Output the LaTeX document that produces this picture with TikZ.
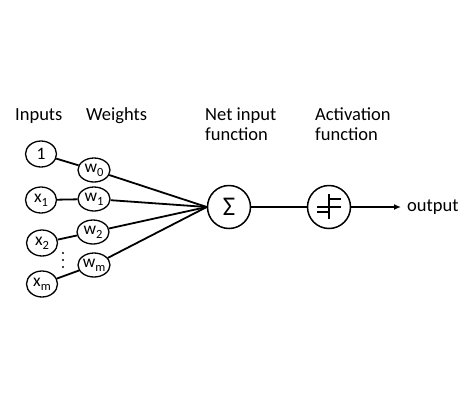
\documentclass[tikz,border=0pt]{standalone}
\usepackage{fontspec}
\setmainfont{Carlito}
\usetikzlibrary{shapes.geometric,arrows.meta}
\newcommand{\sbs}[1]{\raisebox{-0.5ex}{\fontsize{12.5}{12.5}\selectfont #1}}
\tikzset{
  inp/.style={ellipse,draw,line width=1.3pt,minimum width=31pt,minimum height=26pt,inner sep=0pt,font=\fontsize{17.5}{17.5}\selectfont},
  wt/.style={ellipse,draw,line width=1.3pt,minimum width=32pt,minimum height=24pt,inner sep=0pt,font=\fontsize{17.5}{17.5}\selectfont},
  unit/.style={circle,draw,line width=1.5pt,minimum size=43pt,inner sep=0pt},
  conn/.style={line width=1.8pt},
  lbl/.style={font=\fontsize{18.5}{20.5}\selectfont,align=left,inner sep=0pt},
}
\begin{document}
\begin{tikzpicture}[x=1pt,y=-1pt]
\useasboundingbox (0,0) rectangle (474,405);
\node[lbl,anchor=west] (linp) at (15,116) {Inputs};
\node[lbl,anchor=west] (lwt) at (86,116) {Weights};
\node[lbl,anchor=west] (lnet) at (205,124) {Net input\\function};
\node[lbl,anchor=west] (lact) at (315,124) {Activation\\function};

\node[inp] (i0) at (41,154) {1};
\node[inp] (i1) at (41,200) {x\sbs{1}};
\node[inp] (i2) at (42,243) {x\sbs{2}};
\node[inp] (im) at (42,284) {x\sbs{m}};

\node[wt] (w0) at (94,170) {w\sbs{0}};
\node[wt] (w1) at (94,199) {w\sbs{1}};
\node[wt] (w2) at (93,232) {w\sbs{2}};
\node[wt] (wm) at (94,265) {w\sbs{m}};

\node[unit] (s) at (229,207) {\fontsize{27}{27}\selectfont Σ};
\node[unit] (a) at (329,207) {};
\node[lbl,anchor=west] (out) at (407,207) {output};

\foreach \n in {253,260,267} \fill (63,\n) circle (1.1pt);

\draw[conn] (i0) -- (w0);
\draw[conn] (i1) -- (w1);
\draw[conn] (i2) -- (w2);
\draw[conn] (im) -- (wm);
\foreach \w in {w0,w1,w2,wm} \draw[conn] (\w) -- (s.west);
\draw[conn] (s) -- (a);
\draw[conn,-{Latex[length=7pt,width=6pt]},shorten >=6pt] (a) -- (out.west);

\draw[line width=1.3pt] (329,194) -- (329,219);
\draw[line width=1.3pt] (329,199) -- (341,199);
\draw[line width=1.3pt] (317,207) -- (341,207);
\draw[line width=1.3pt] (317,212) -- (329,212);
\end{tikzpicture}
\end{document}
